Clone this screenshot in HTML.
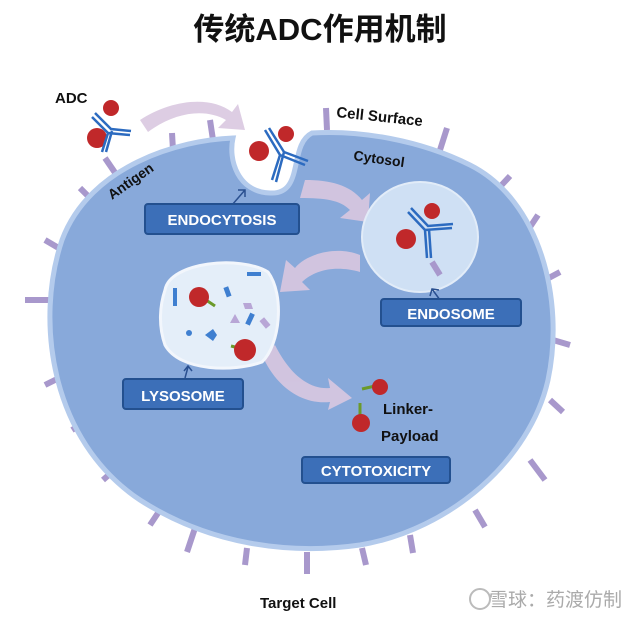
<!DOCTYPE html>
<html><head><meta charset="utf-8"><style>
html,body{margin:0;padding:0;background:#fff;width:640px;height:618px;overflow:hidden}
svg{display:block}
</style></head><body>
<svg width="640" height="618" viewBox="0 0 640 618" xmlns="http://www.w3.org/2000/svg" font-family="Liberation Sans, sans-serif">
<text x="320" y="40" text-anchor="middle" font-size="31" font-weight="bold" font-family="Liberation Sans, Noto Sans CJK SC, sans-serif" fill="#111">传统ADC作用机制</text>
<!-- receptors -->
<g stroke="#a898cc" stroke-width="6" stroke-linecap="butt">
<line x1="120" y1="180" x2="105" y2="158"/><line x1="173" y1="150" x2="172" y2="133"/><line x1="213" y1="140" x2="210" y2="120"/>
<line x1="327" y1="130" x2="326" y2="108"/><line x1="440" y1="150" x2="447" y2="128"/><line x1="497" y1="190" x2="510" y2="176"/>
<line x1="528" y1="230" x2="538" y2="215"/><line x1="545" y1="280" x2="560" y2="272"/><line x1="553" y1="340" x2="570" y2="345"/>
<line x1="550" y1="400" x2="563" y2="412"/><line x1="530" y1="460" x2="545" y2="480"/><line x1="475" y1="510" x2="485" y2="527"/>
<line x1="410" y1="535" x2="413" y2="553"/><line x1="362" y1="548" x2="366" y2="565"/><line x1="307" y1="552" x2="307" y2="574"/>
<line x1="247" y1="548" x2="245" y2="565"/><line x1="195" y1="528" x2="187" y2="552"/><line x1="160" y1="510" x2="150" y2="525"/>
<line x1="120" y1="465" x2="103" y2="480"/><line x1="88" y1="420" x2="72" y2="430"/><line x1="65" y1="375" x2="45" y2="385"/>
<line x1="50" y1="300" x2="25" y2="300"/><line x1="62" y1="250" x2="45" y2="240"/><line x1="92" y1="200" x2="80" y2="188"/>
</g>
<!-- cell -->
<path d="M233,138 C180,140 90,165 62,240 C35,320 50,440 140,500 C210,545 290,555 360,545 C450,530 530,460 548,380 C565,300 540,200 470,165 C420,140 360,130 312,133 C288,145 305,195 270,193 C238,192 228,160 233,138 Z" fill="#88a9da" stroke="#b4cbec" stroke-width="5"/>
<!-- arrows -->
<g fill="#d9c8e0" opacity="0.9">
<path d="M140,120 C170,100 210,95 232,112 L238,104 L245,130 L218,128 L226,120 C205,108 175,112 148,132 Z"/>
<path d="M305,180 C330,180 350,185 362,200 L370,193 L368,222 L340,218 L350,210 C340,200 325,198 300,198 Z"/>
<path d="M360,255 C335,245 305,255 295,268 L286,260 L280,292 L310,290 L302,282 C315,270 335,265 360,272 Z"/>
<path d="M275,345 C290,375 310,390 330,388 L328,378 L352,398 L328,410 L330,402 C300,405 275,385 262,355 Z"/>
</g>
<!-- endosome -->
<ellipse cx="420" cy="237" rx="58" ry="55" fill="#cfe0f4" stroke="#e2ecf8" stroke-width="2"/>
<!-- lysosome -->
<path d="M165,290 C170,262 240,255 268,272 C285,295 280,345 262,362 C235,372 180,372 165,345 C158,325 160,305 165,290 Z" fill="#e4eef9" stroke="#f2f6fc" stroke-width="3"/>
<g fill="#3f7fd0"><rect x="247" y="272" width="14" height="4"/><rect x="173" y="288" width="4" height="18"/><rect x="225" y="287" width="5" height="10" transform="rotate(-20 227 292)"/><rect x="248" y="313" width="5" height="12" transform="rotate(25 250 318)"/><circle cx="189" cy="333" r="3"/><path d="M205,335 l8,-6 l4,6 l-4,6z"/></g>
<g fill="#b8a6d6"><path d="M230,323 l5,-9 l5,9z"/><path d="M243,303 l8,0 l2,6 l-8,0z"/><rect x="262" y="318" width="6" height="10" transform="rotate(-40 265 323)"/></g>
<!-- payloads -->
<g stroke="#6b9a2a" stroke-width="3"><line x1="200" y1="296" x2="215" y2="306"/><line x1="243" y1="349" x2="231" y2="346"/><line x1="362" y1="389" x2="375" y2="386"/><line x1="360" y1="403" x2="360" y2="417"/></g>
<g fill="#c0282a"><circle cx="199" cy="297" r="10"/><circle cx="245" cy="350" r="11"/><circle cx="380" cy="387" r="8"/><circle cx="361" cy="423" r="9"/>
<circle cx="111" cy="108" r="8"/><circle cx="97" cy="138" r="10"/><circle cx="286" cy="134" r="8"/><circle cx="259" cy="151" r="10"/>
<circle cx="432" cy="211" r="8"/><circle cx="406" cy="239" r="10"/></g>
<!-- antibodies -->
<g stroke="#2c6bc0" stroke-width="2.5" fill="none">
<path d="M92,117 L108,133 L130,135 M95,113 L111,129 L131,131 M108,133 L102,152 M112,131 L106,152"/>
<path d="M265,130 L280,155 L305,165 M269,128 L284,152 L308,161 M280,155 L272,180 M284,152 L276,182"/>
<path d="M408,212 L425,230 L452,228 M411,208 L428,226 L453,224 M425,230 L427,258 M429,229 L431,258"/>
</g>
<g stroke="#a898cc" stroke-width="6"><line x1="432" y1="262" x2="440" y2="275"/></g>
<!-- box arrows -->
<g stroke="#2a5090" stroke-width="1.5" fill="none"><path d="M232,205 L245,190 M238,190 L245,190 L245,197"/><path d="M440,300 L432,289 M430,296 L432,289 L439,290"/><path d="M185,378 L188,367 M184,371 L188,366 L192,371"/></g>
<!-- label boxes -->
<g fill="#3c6fb8" stroke="#23508f" stroke-width="2">
<rect x="145" y="204" width="154" height="30" rx="3"/><rect x="381" y="299" width="140" height="27" rx="3"/>
<rect x="123" y="379" width="120" height="30" rx="3"/><rect x="302" y="457" width="148" height="26" rx="3"/>
</g>
<g fill="#fff" font-weight="bold" font-size="15" text-anchor="middle">
<text x="222" y="225">ENDOCYTOSIS</text><text x="451" y="319">ENDOSOME</text><text x="183" y="401">LYSOSOME</text><text x="376" y="476">CYTOTOXICITY</text>
</g>
<g fill="#111" font-weight="bold" font-size="15">
<text x="55" y="103">ADC</text>
<text x="336" y="117" transform="rotate(6 336 117)">Cell Surface</text>
<text x="353" y="160" font-size="14" transform="rotate(8 353 160)">Cytosol</text>
<text x="112" y="200" font-size="14" transform="rotate(-35 112 200)">Antigen</text>
<text x="383" y="414">Linker-</text><text x="381" y="441">Payload</text>
<text x="260" y="608" font-size="15">Target Cell</text>
</g>
<text x="622" y="606" text-anchor="end" font-size="19" fill="#aaa" font-family="Liberation Sans, Noto Sans CJK SC, sans-serif">雪球：药渡仿制</text>
<circle cx="480" cy="599" r="10" fill="none" stroke="#bbb" stroke-width="2"/>
</svg>
</body></html>
